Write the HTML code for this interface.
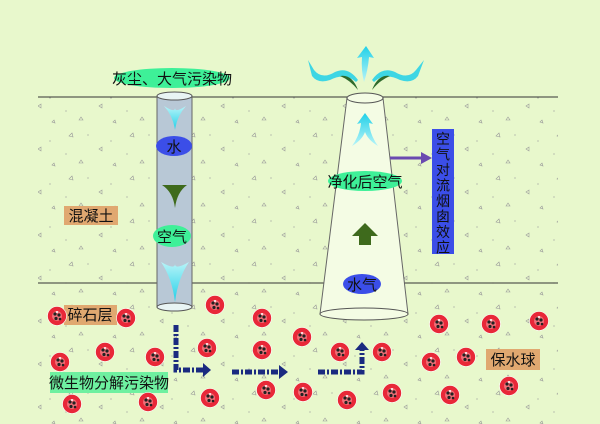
<!DOCTYPE html>
<html><head><meta charset="utf-8"><style>
html,body{margin:0;padding:0;background:#e8f8cc;}
svg{display:block;}
text{font-family:"Liberation Sans","Noto Sans CJK SC",sans-serif;fill:#111;}
</style></head><body>
<svg width="600" height="424" viewBox="0 0 600 424" xmlns="http://www.w3.org/2000/svg">
<defs>
<linearGradient id="cy" x1="0" y1="1" x2="0" y2="0"><stop offset="0" stop-color="#b8f4f8"/><stop offset="1" stop-color="#20d0e8"/></linearGradient>
<linearGradient id="cd" x1="0" y1="0" x2="0" y2="1"><stop offset="0" stop-color="#b8f4f8"/><stop offset="1" stop-color="#20d0e8"/></linearGradient>
<pattern id="stones" width="61" height="43" patternUnits="userSpaceOnUse">
<path d="M8 7 l3 -3 l1 4z M38 20 l3 -2 l0 4z M18 34 l2 -3 l2 3z M52 36 l2 -2 l1 3z" fill="none" stroke="#999" stroke-width="0.6"/>
<circle cx="27" cy="6" r="0.6" fill="#999"/><circle cx="50" cy="12" r="0.6" fill="#999"/><circle cx="5" cy="25" r="0.6" fill="#999"/>
</pattern>
<g id="ball"><circle r="9.5" fill="#e82838" stroke="#fff" stroke-width="0.6"/><circle r="5" fill="#f07078"/><circle cx="-2" cy="-2" r="1.6" fill="#222"/><circle cx="2" cy="-1" r="1.6" fill="#222"/><circle cx="-1" cy="2.5" r="1.6" fill="#222"/><circle cx="3" cy="3" r="1.3" fill="#222"/><circle cx="0" cy="-4" r="1" fill="#fff"/></g>
</defs>
<rect x="38" y="97" width="520" height="327" fill="url(#stones)"/>
<line x1="38" y1="97" x2="558" y2="97" stroke="#333" stroke-width="1"/>
<line x1="38" y1="283" x2="558" y2="283" stroke="#333" stroke-width="1"/>

<rect x="157" y="96" width="35" height="211" fill="#b8c8d6" stroke="#666"/>
<ellipse cx="174.5" cy="96" rx="17.5" ry="4" fill="#e8f4f4" stroke="#555"/>
<ellipse cx="174.5" cy="307" rx="17.5" ry="4" fill="#e8f4f4" stroke="#555"/>
<path d="M164 106 Q175 113 175 108 Q175 113 186 106 Q177 116 175 130 Q173 116 164 106Z" fill="url(#cd)"/>
<path d="M162 185 L187 185 Q177 192 175 208 Q173 192 162 185Z" fill="#3e6a1c"/>
<path d="M161 262 Q175 270 175 264 Q175 270 189 262 Q178 278 175 302 Q172 278 161 262Z" fill="url(#cd)"/>
<ellipse cx="174" cy="146" rx="18" ry="10" fill="#3b4ee8"/>
<text x="174" y="152" font-size="15" text-anchor="middle">水</text>
<ellipse cx="172" cy="236" rx="19" ry="11" fill="#3ef098"/>
<text x="172" y="242" font-size="15" text-anchor="middle">空气</text>

<ellipse cx="172" cy="78" rx="58" ry="10" fill="#3ef098"/>
<text x="172" y="84" font-size="15" text-anchor="middle">灰尘、大气污染物</text>

<path d="M347 98 L383 98 L408 314 L320 314Z" fill="#f4fce4" stroke="#666"/>
<ellipse cx="365" cy="98" rx="18" ry="5" fill="#f4fce4" stroke="#555"/>
<ellipse cx="364" cy="314" rx="44" ry="6" fill="#f4fce4" stroke="#555"/>
<path d="M365 113 L373 124 L369 123 Q370 135 378 146 Q368 140 365 132 Q362 140 352 146 Q360 135 361 123 L357 124Z" fill="url(#cy)"/>
<path d="M365 223 L378 236 L371 236 L371 245 L359 245 L359 236 L352 236Z" fill="#3e6a1c"/>
<ellipse cx="365" cy="181" rx="37" ry="10" fill="#3ef098"/>
<text x="365" y="187" font-size="15" text-anchor="middle">净化后空气</text>
<ellipse cx="362" cy="284" rx="19" ry="10" fill="#3b4ee8"/>
<text x="362" y="290" font-size="15" text-anchor="middle">水气</text>
<path d="M366 46 L374 58 L369 57 Q368 70 364 82 Q361 70 362 57 L357 58Z" fill="url(#cy)"/>
<path d="M356 82 Q345 72 330 80 Q318 84 312 76 L308 60 L314 70 Q322 80 335 72 Q348 66 358 80Z" fill="#20d0e8" opacity="0.85"/>
<path d="M374 82 Q385 72 400 80 Q412 84 418 76 L424 60 L416 70 Q408 80 395 72 Q382 66 372 80Z" fill="#20d0e8" opacity="0.85"/>
<path d="M340 76 Q352 74 358 90 Q350 80 340 76Z M390 76 Q378 74 372 90 Q380 80 390 76Z" fill="#2e6a2c"/>

<line x1="390" y1="158" x2="424" y2="158" stroke="#6a4ab0" stroke-width="3"/>
<path d="M421 152 L432 158 L421 164Z" fill="#6a4ab0"/>
<rect x="432" y="129" width="22" height="125" fill="#3b4ee8"/>
<text font-size="14" text-anchor="middle"><tspan x="443" y="144">空</tspan><tspan x="443" y="159.5">气</tspan><tspan x="443" y="175">对</tspan><tspan x="443" y="190.5">流</tspan><tspan x="443" y="206">烟</tspan><tspan x="443" y="221.5">囱</tspan><tspan x="443" y="237">效</tspan><tspan x="443" y="252.5">应</tspan></text>

<rect x="64" y="206" width="54" height="19" fill="#e0a870"/>
<text x="91" y="221" font-size="15" text-anchor="middle">混凝土</text>
<rect x="64" y="305" width="53" height="20" fill="#e0a870"/>
<text x="90" y="320" font-size="15" text-anchor="middle">碎石层</text>
<rect x="486" y="349" width="54" height="21" fill="#e0a870"/>
<text x="513" y="365" font-size="15" text-anchor="middle">保水球</text>
<rect x="50" y="372" width="118" height="21" fill="#6ef0a0"/>
<text x="109" y="388" font-size="15" text-anchor="middle">微生物分解污染物</text>

<g>
<use href="#ball" x="57" y="316"/><use href="#ball" x="126" y="318"/><use href="#ball" x="215" y="305"/><use href="#ball" x="262" y="318"/>
<use href="#ball" x="105" y="352"/><use href="#ball" x="60" y="362"/><use href="#ball" x="155" y="357"/><use href="#ball" x="207" y="348"/><use href="#ball" x="262" y="350"/>
<use href="#ball" x="302" y="337"/><use href="#ball" x="340" y="352"/><use href="#ball" x="382" y="352"/><use href="#ball" x="303" y="392"/>
<use href="#ball" x="439" y="324"/><use href="#ball" x="431" y="362"/><use href="#ball" x="466" y="357"/><use href="#ball" x="491" y="324"/><use href="#ball" x="539" y="321"/>
<use href="#ball" x="72" y="404"/><use href="#ball" x="148" y="402"/><use href="#ball" x="210" y="398"/><use href="#ball" x="266" y="390"/><use href="#ball" x="347" y="400"/><use href="#ball" x="392" y="393"/><use href="#ball" x="450" y="395"/><use href="#ball" x="509" y="386"/>
</g>

<g stroke="#1a2a80" stroke-width="5" fill="none" stroke-dasharray="7,2,2,2">
<path d="M176 325 L176 370 L204 370"/>
<path d="M232 372 L280 372"/>
<path d="M318 372 L362 372 L362 350"/>
</g>
<g fill="#1a2a80">
<path d="M203 363 L211 370 L203 377Z"/>
<path d="M279 365 L288 372 L279 379Z"/>
<path d="M355 350 L362 342 L369 350Z"/>
</g>
</svg>
</body></html>
